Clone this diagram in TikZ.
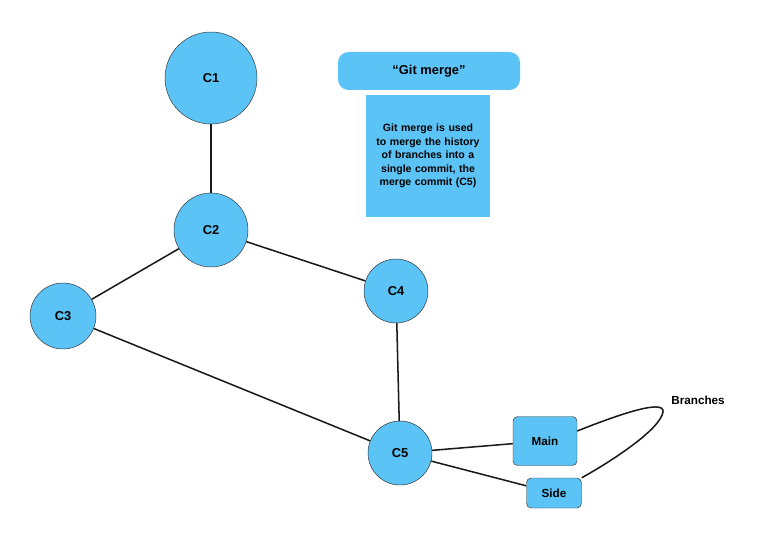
\documentclass[tikz,border=0pt]{standalone}
\usepackage{fontspec}
\setmainfont{Liberation Sans}
\usetikzlibrary{positioning}
\definecolor{gitblue}{HTML}{5BC3F5}
\tikzset{
  commit/.style={circle, draw=black!80, fill=gitblue, font=\bfseries\fontsize{11}{13}\selectfont, minimum size=#1},
  branch/.style={rounded corners=4pt, draw=black!80, fill=gitblue, font=\bfseries\fontsize{10}{12}\selectfont},
  link/.style={line width=1.3pt, black!90}
}
\begin{document}
\begin{tikzpicture}[x=0.03cm, y=-0.03cm]
  \useasboundingbox (0,0) rectangle (768,540);
  \node[commit=2.76cm] (c1) at (211,78) {C1};
  \node[commit=2.22cm] (c2) at (211,230) {C2};
  \node[commit=1.98cm] (c3) at (63,316) {C3};
  \node[commit=1.92cm] (c4) at (396,291) {C4};
  \node[commit=1.92cm] (c5) at (400,453) {C5};
  \node[branch, minimum width=1.92cm, minimum height=1.47cm] (main) at (545,441) {Main};
  \node[branch, minimum width=1.65cm, minimum height=0.9cm] (side) at (554,493) {Side};
  \node[font=\bfseries\fontsize{10}{12}\selectfont] (br) at (698,400) {Branches};
  \node[rounded corners=9pt, fill=gitblue, minimum width=5.46cm, minimum height=1.14cm,
        font=\bfseries\fontsize{11}{13}\selectfont] (title) at (429,71) {“Git merge”};
  \node[fill=gitblue, minimum width=3.72cm, minimum height=3.66cm, text width=3.1cm, align=center,
        font=\bfseries\fontsize{9}{11.5}\selectfont] (note) at (428,156)
        {Git merge is used to merge the history of branches into a single commit, the merge commit (C5)};
  % history
  \draw[link] (c1) -- (c2);
  \draw[link] (c2) -- (c3);
  \draw[link] (c2) -- (c4);
  \draw[link] (c3) -- (c5);
  \draw[link] (c4) -- (c5);
  \draw[link] (c5) -- (main);
  \draw[link] (c5) -- (side);
  % branch loop
  \coordinate (tip) at (663,412);
  \draw[link] (main.east) ++(0,-10) .. controls (615,416) and (665,398) .. (tip)
    .. controls (660,430) and (610,462) .. (side.north east);
\end{tikzpicture}
\end{document}
